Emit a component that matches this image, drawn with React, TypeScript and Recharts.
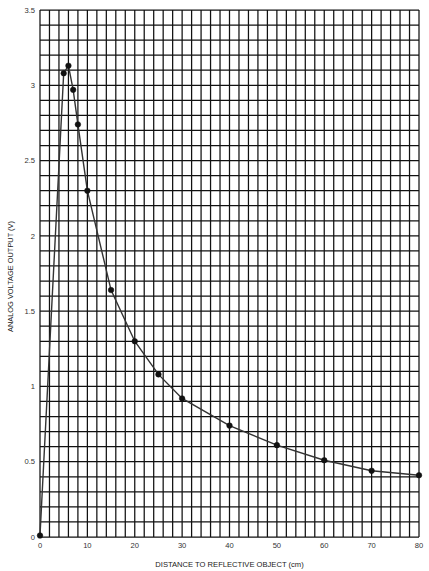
import React from "react";
import { CartesianGrid, Label, Line, LineChart, XAxis, YAxis } from "recharts";

// distance (cm) vs analog voltage output (V)
const distance = [0, 5, 6, 7, 8, 10, 15, 20, 25, 30, 40, 50, 60, 70, 80];
const voltage = [0.01, 3.08, 3.13, 2.97, 2.74, 2.3, 1.64, 1.3, 1.08, 0.92, 0.74, 0.61, 0.51, 0.44, 0.41];

// grid: every 2 cm and every 0.1 V, labels every 10 cm and 0.5 V
const xTicks = Array.from({ length: 41 }, (_, i) => i * 2);
const yTicks = Array.from({ length: 36 }, (_, i) => i / 10);

const data = distance.map((d, i) => ({ d, v: voltage[i] }));

const font = "'Liberation Sans', Arial, sans-serif";
const tickStyle = { fill: "#333", fontSize: 7.6, fontFamily: font };

export default function App() {
  return (
    <div style={{ position: "absolute", left: 0, top: 0 }}>
      <LineChart
        width={429}
        height={571}
        data={data}
        margin={{ top: 10, right: 10, bottom: 0, left: 0 }}
      >
        <CartesianGrid stroke="#111" strokeWidth={1.25} />
        <XAxis
          dataKey="d"
          type="number"
          domain={[0, 80]}
          ticks={xTicks}
          interval={0}
          tickSize={0}
          tickMargin={6}
          axisLine={false}
          tickLine={false}
          height={34}
          tick={tickStyle}
          tickFormatter={(v) => (v % 10 === 0 ? String(v) : "")}
        >
          <Label
            value="DISTANCE TO REFLECTIVE OBJECT (cm)"
            position="insideBottom"
            offset={4}
            style={{ fill: "#222", fontSize: 7.6, fontFamily: font }}
          />
        </XAxis>
        <YAxis
          type="number"
          domain={[0, 3.5]}
          ticks={yTicks}
          interval={0}
          tickSize={0}
          tickMargin={5}
          axisLine={false}
          tickLine={false}
          width={40}
          tick={tickStyle}
          tickFormatter={(v) => (Math.round(v * 10) % 5 === 0 ? String(v) : "")}
        >
          <Label
            content={({ viewBox }: any) => {
              const cx = 10;
              const cy = viewBox.y + viewBox.height / 2 + 3;
              return (
                <text
                  x={cx}
                  y={cy}
                  transform={`rotate(-90 ${cx} ${cy})`}
                  textAnchor="middle"
                  dominantBaseline="central"
                  fill="#222"
                  fontSize={7.4}
                  fontFamily={font}
                >
                  ANALOG VOLTAGE OUTPUT (V)
                </text>
              );
            }}
          />
        </YAxis>
        <Line
          dataKey="v"
          type="linear"
          stroke="#333"
          strokeWidth={1.4}
          dot={{ r: 2.8, fill: "#111", stroke: "#111", strokeWidth: 0.5 }}
          isAnimationActive={false}
        />
      </LineChart>
    </div>
  );
}
